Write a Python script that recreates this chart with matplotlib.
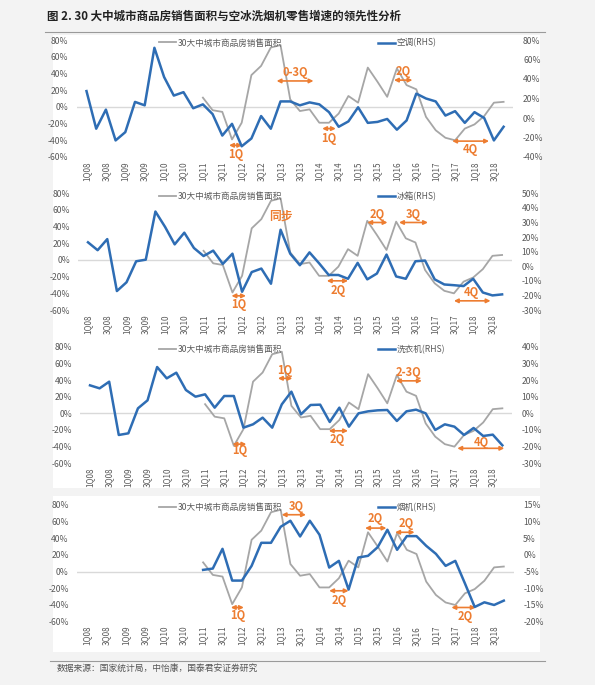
import numpy as np
import matplotlib
matplotlib.use('Agg')
import matplotlib.pyplot as plt
from matplotlib.lines import Line2D
from matplotlib.patches import Rectangle

plt.rcParams['font.family'] = ['Noto Sans CJK SC', 'DejaVu Sans']

# quarters 1Q08 .. 4Q18
quarters = [f'{q}Q{y:02d}' for y in range(8, 19) for q in range(1, 5)]

# 30大中城市商品房销售面积 (starts 1Q11)
sales_area = [11, -4, -6, -39, -19, 38, 49, 71, 74, 9, -5, -3,
              -19, -19, -8, 13, 5, 47, 30, 12, 46, 26, 21, -12,
              -28, -37, -40, -26, -21, -11, 5, 6]

aircon = [27.6, -11, 8.6, -23, -14.5, 16.5, 13, 72, 42, 23, 26.5, 10,
          14, 4, -18, -6, -29, -21, 2, -11, 17, 17, 13, 16,
          14, 6, -9, -3.5, 11, -5, -4, -1, -12, -2.5, 25, 20,
          17, 2.5, 7, -5, 6, 0, -23, -9]

fridge = [16.4, 11, 18.6, -17, -11, 3.4, 4.5, 37.5, 27, 15, 23, 12.5,
          7, 10.7, 1.6, 8.6, -17.5, -4, -1.6, -12, 25, 8.6, 0.7, 9.5,
          2, -6, -6, -8.6, 2.3, -9, -5, 8, -7, -8.6, 3.4, 3.9,
          -9, -12.5, -13, -13.6, -8.6, -18, -20, -19.3]

washer = [16.8, 15, 19, -13, -12, 3, 7.8, 27.8, 21, 24.4, 14, 10,
          11.4, 3.4, 10.4, 10.4, -8.6, -6.6, -2.6, -8.6, 5.4, 13, -0.6, 5,
          5.2, -5.2, 3.4, -8, 0, 1.2, 1.8, 2, -4.6, 1.2, 2.2, 0,
          -10, -6.6, -8, -13, -8.8, -13.6, -12.8, -19.2]

# 烟机 (starts 1Q11)
hood = [-4.5, -4.1, 1.8, -7.7, -7.7, -3.3, 3.6, 3.6, 8.4, 10.2, 5.5, 10.2,
        6, -3.8, -1.8, -10.4, -0.8, -0.3, 2.3, 7.5, 1.5, 5.6, 5.6, 2.7,
        0.3, -3.3, -1.8, -8.6, -15.6, -14.2, -15, -13.7]

n = len(quarters)
idx = np.arange(n)
pad = [np.nan] * (n - len(sales_area))
gray_full = pad + sales_area
hood_full = [np.nan] * (n - len(hood)) + hood

W, H = 595, 685
BLUE = '#2E6DB4'
GRAY = '#A6A6A6'
ORANGE = '#ED7D31'
TXT = '#595959'

fig = plt.figure(figsize=(W / 100, H / 100), dpi=100, facecolor='#f3f3f3')

def box(x0, y0, x1, y1):
    return [x0 / W, 1 - y1 / H, (x1 - x0) / W, (y1 - y0) / H]

fig.patches.append(Rectangle((53 / W, 1 - 488 / H), 487 / W, 453 / H,
                             transform=fig.transFigure, facecolor='white',
                             edgecolor='none', zorder=-5))
fig.patches.append(Rectangle((53 / W, 1 - 652 / H), 487 / W, 156 / H,
                             transform=fig.transFigure, facecolor='white',
                             edgecolor='none', zorder=-5))

fig.text(47 / W, 1 - 16 / H, '图 2. 30 大中城市商品房销售面积与空冰洗烟机零售增速的领先性分析',
         fontsize=8.3, fontweight='bold', color='#222222', va='center')
fig.add_artist(Line2D([45 / W, 545 / W], [1 - 32 / H, 1 - 32 / H],
                      color='#9a9a9a', lw=0.8, transform=fig.transFigure))
fig.add_artist(Line2D([50 / W, 545 / W], [1 - 661 / H, 1 - 661 / H],
                      color='#9a9a9a', lw=0.8, transform=fig.transFigure))
fig.text(57 / W, 1 - 669 / H, '数据来源：国家统计局，中怡康，国泰君安证券研究',
         fontsize=6.3, color='#555555', va='center')

panels = [
    dict(series=aircon, name='空调(RHS)', top=40, bot=157, x0=86.5, step=9.7,
         rlim=(-40, 80), rstep=20,
         notes=[(14.7, 16.05, -46, '1Q', 15.4, -57),
                (19.6, 23.4, 31, '0-3Q', 21.5, 41),
                (24.3, 25.7, -26, '1Q', 25.0, -38),
                (31.7, 33.6, 32, '2Q', 32.6, 42),
                (37.7, 41.5, -41, '4Q', 39.6, -51)]),
    dict(series=fridge, name='冰箱(RHS)', top=193.3, bot=310, x0=88, step=9.63,
         rlim=(-30, 50), rstep=10,
         notes=[(14.9, 16.4, -43, '1Q', 15.7, -54),
                (24.8, 27.0, -25, '2Q', 26.0, -37),
                (29.0, 31.1, 45, '2Q', 30.0, 55),
                (32.3, 35.3, 45, '3Q', 33.8, 55),
                (38.0, 41.8, -49, '4Q', 39.8, -39)],
         extra=(20, 53, '同步')),
    dict(series=washer, name='洗衣机(RHS)', top=346.7, bot=463.3, x0=90, step=9.59,
         rlim=(-30, 40), rstep=10,
         notes=[(14.86, 16.3, -37, '1Q', 15.6, -45),
                (19.6, 21.1, 42, '1Q', 20.3, 52),
                (24.9, 26.9, -21, '2Q', 25.8, -32),
                (31.9, 34.6, 39, '2-3Q', 33.2, 49),
                (38.3, 43.2, -42, '4Q', 40.8, -35)]),
    dict(series=hood_full, name='烟机(RHS)', top=504.7, bot=621.7, x0=86.7, step=9.7,
         rlim=(-20, 15), rstep=5,
         notes=[(14.86, 16.2, -43, '1Q', 15.6, -53),
                (20.1, 22.6, 68, '3Q', 21.6, 78),
                (25.0, 27.0, -23, '2Q', 26.0, -35),
                (28.7, 30.9, 52, '2Q', 29.7, 63),
                (31.8, 33.8, 47, '2Q', 32.9, 58),
                (37.6, 40.1, -43, '2Q', 39.0, -54)]),
]

for p in panels:
    x0, s = p['x0'], p['step']
    ax = fig.add_axes(box(x0 - s, p['top'], x0 + 44 * s, p['bot']))
    ax.patch.set_alpha(0)
    ax2 = ax.twinx()
    ax.set_xlim(-1, 44)
    ax.set_ylim(-60, 80)
    ax2.set_ylim(*p['rlim'])
    ax.axhline(0, color='#d9d9d9', lw=1.0, zorder=1)

    g, = ax.plot(idx, gray_full, color=GRAY, lw=1.3, zorder=2,
                 label='30大中城市商品房销售面积')
    b, = ax2.plot(idx, p['series'], color=BLUE, lw=1.8, zorder=3, label=p['name'])

    ax.set_yticks(np.arange(-60, 81, 20))
    ax.yaxis.set_major_formatter(plt.FuncFormatter(lambda v, _: f'{v:.0f}%'))
    lo, hi = p['rlim']
    ax2.set_yticks(np.arange(lo, hi + 1, p['rstep']))
    ax2.yaxis.set_major_formatter(plt.FuncFormatter(lambda v, _: f'{v:.0f}%'))
    ax.set_xticks(idx[::2])
    ax.set_xticklabels(quarters[::2], rotation=90)

    for a in (ax, ax2):
        for sp in a.spines.values():
            sp.set_visible(False)
        a.tick_params(length=0, labelsize=6.2, colors=TXT, pad=4)
    ax.tick_params(axis='x', labelsize=5.8, pad=3)
    ax.tick_params(axis='y', pad=6)
    ax2.tick_params(axis='y', pad=7)

    yb = 1.0 - 3 / (p['bot'] - p['top'])
    ax.legend(handles=[g], loc='center left', frameon=False, fontsize=6.2,
              labelcolor=TXT, handlelength=2.0, handletextpad=0.2,
              bbox_to_anchor=((151 - (x0 - s)) / (45 * s), yb))
    ax2.legend(handles=[b], loc='center left', frameon=False, fontsize=6.2,
               labelcolor=TXT, handlelength=2.0, handletextpad=0.2,
               bbox_to_anchor=((370 - (x0 - s)) / (45 * s), yb))

    for x1, x2, y, lab, lx, ly in p['notes']:
        ax.annotate('', xy=(x1, y), xytext=(x2, y),
                    arrowprops=dict(arrowstyle='<|-|>', color=ORANGE, lw=1.2,
                                    mutation_scale=6, shrinkA=0, shrinkB=0), zorder=5)
        ax.text(lx, ly, lab, color=ORANGE, fontsize=8, fontweight='bold',
                ha='center', va='center', zorder=5)
    if 'extra' in p:
        ex, ey, lab = p['extra']
        ax.text(ex, ey, lab, color=ORANGE, fontsize=8.5, fontweight='bold',
                ha='center', va='center', zorder=5)

fig.savefig('out.png', dpi=100, facecolor=fig.get_facecolor())
